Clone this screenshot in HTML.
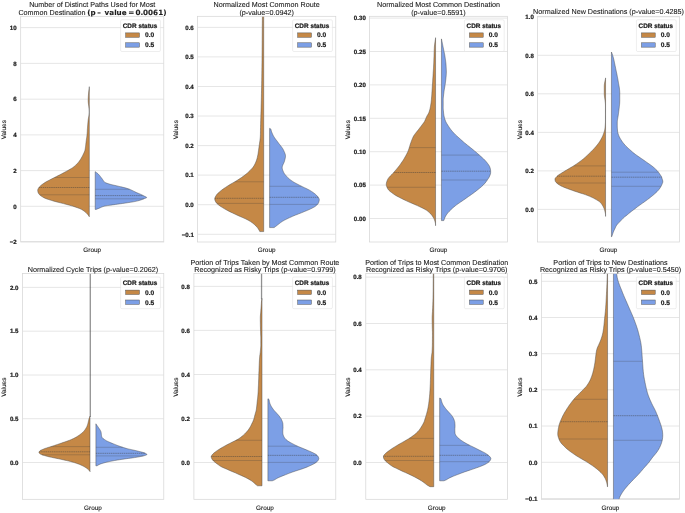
<!DOCTYPE html>
<html lang="en">
<head>
<meta charset="utf-8">
<title>CDR status violin plots</title>
<style>html,body{margin:0;padding:0;background:#fff;}svg{display:block;}</style>
</head>
<body>
<svg width="685" height="513" viewBox="0 0 685 513" font-family="'Liberation Sans', sans-serif" text-rendering="geometricPrecision">
<rect width="685" height="513" fill="#fff"/>
<defs>
<clipPath id="c1"><rect x="20.7" y="16.3" width="143.1" height="225.7"/></clipPath>
<clipPath id="c2"><rect x="197.5" y="16.3" width="138.3" height="225.7"/></clipPath>
<clipPath id="c3"><rect x="369.4" y="16.3" width="138.2" height="225.7"/></clipPath>
<clipPath id="c4"><rect x="537.4" y="16.3" width="142.2" height="225.7"/></clipPath>
<clipPath id="c5"><rect x="22.5" y="273.5" width="141.3" height="225.8"/></clipPath>
<clipPath id="c6"><rect x="193.9" y="273.5" width="141.9" height="225.8"/></clipPath>
<clipPath id="c7"><rect x="365.8" y="273.5" width="141.8" height="225.8"/></clipPath>
<clipPath id="c8"><rect x="541.4" y="273.5" width="138.2" height="225.8"/></clipPath>
</defs>
<g id="panel1">
<g stroke="#d7d7d7" stroke-width="0.62" clip-path="url(#c1)">
<line x1="20.7" x2="163.8" y1="27.6" y2="27.6"/>
<line x1="20.7" x2="163.8" y1="63.4" y2="63.4"/>
<line x1="20.7" x2="163.8" y1="99.2" y2="99.2"/>
<line x1="20.7" x2="163.8" y1="134.9" y2="134.9"/>
<line x1="20.7" x2="163.8" y1="170.6" y2="170.6"/>
<line x1="20.7" x2="163.8" y1="206.3" y2="206.3"/>
<line x1="20.7" x2="163.8" y1="241.5" y2="241.5"/>
</g>
<g clip-path="url(#c1)" stroke="#464646" stroke-width="0.46" stroke-linejoin="bevel">
<path d="M89.3 86.7L89.3 86.7L89.3 87.52L89.27 88.34L89.12 89.15L88.98 89.97L88.85 90.79L88.74 91.61L88.65 92.42L88.58 93.24L88.52 94.06L88.45 94.88L88.39 95.69L88.34 96.51L88.29 97.33L88.25 98.15L88.22 98.96L88.21 99.78L88.2 100.6L88.22 101.42L88.27 102.23L88.34 103.05L88.44 103.87L88.54 104.69L88.66 105.51L88.78 106.32L88.89 107.14L89 107.96L89.11 108.78L89.19 109.59L89.25 110.41L89.29 111.23L89.3 112.05L89.26 112.86L89.19 113.68L89.09 114.5L88.97 115.32L88.83 116.13L88.68 116.95L88.53 117.77L88.38 118.59L88.25 119.4L88.14 120.22L88.06 121.04L87.97 121.86L87.9 122.67L87.82 123.49L87.75 124.31L87.69 125.13L87.62 125.95L87.56 126.76L87.5 127.58L87.44 128.4L87.39 129.22L87.34 130.03L87.29 130.85L87.25 131.67L87.2 132.49L87.15 133.3L87.09 134.12L87.01 134.94L86.92 135.76L86.82 136.57L86.71 137.39L86.59 138.21L86.47 139.03L86.35 139.84L86.23 140.66L86.12 141.48L86.01 142.3L85.92 143.12L85.83 143.93L85.75 144.75L85.66 145.57L85.57 146.39L85.46 147.2L85.35 148.02L85.22 148.84L85.07 149.66L84.88 150.47L84.61 151.29L84.28 152.11L83.91 152.93L83.52 153.74L83.14 154.56L82.74 155.38L82.33 156.2L81.89 157.01L81.44 157.83L80.95 158.65L80.44 159.47L79.9 160.28L79.33 161.1L78.71 161.92L78.04 162.74L77.31 163.56L76.53 164.37L75.69 165.19L74.78 166.01L73.79 166.83L72.67 167.64L71.4 168.46L70.03 169.28L68.59 170.1L67.1 170.91L65.6 171.73L64.11 172.55L62.6 173.37L61.02 174.18L59.41 175L57.78 175.82L56.16 176.64L54.57 177.45L53 178.27L51.38 179.09L49.76 179.91L48.16 180.73L46.64 181.54L45.24 182.36L43.99 183.18L42.82 184L41.7 184.81L40.67 185.63L39.8 186.45L39.12 187.27L38.57 188.08L38.08 188.9L37.76 189.72L37.71 190.54L37.82 191.35L37.99 192.17L38.3 192.99L38.81 193.81L39.46 194.62L40.35 195.44L41.47 196.26L42.79 197.08L44.28 197.89L46.2 198.71L48.57 199.53L51.22 200.35L53.98 201.17L56.97 201.98L60.26 202.8L63.51 203.62L66.6 204.44L69.67 205.25L72.54 206.07L75.05 206.89L77.39 207.71L79.53 208.52L81.36 209.34L82.78 210.16L83.97 210.98L85.02 211.79L85.94 212.61L86.76 213.43L87.51 214.25L88.19 215.06L88.79 215.88L89.3 216.7L89.3 216.7Z" fill="#C58846"/>
<line x1="89.3" x2="54.48" y1="177.5" y2="177.5" stroke="#3a3a3a" stroke-opacity="0.55" stroke-width="0.45"/>
<line x1="89.3" x2="38.96" y1="187.5" y2="187.5" stroke="#3a3a3a" stroke-opacity="0.85" stroke-width="0.5" stroke-dasharray="1.55 0.6"/>
<line x1="89.3" x2="39.63" y1="194.8" y2="194.8" stroke="#3a3a3a" stroke-opacity="0.55" stroke-width="0.45"/>
<path d="M95.2 171.7L95.3 171.7L95.63 171.94L95.96 172.17L96.28 172.41L96.6 172.65L96.9 172.89L97.2 173.12L97.48 173.36L97.76 173.6L98.02 173.83L98.27 174.07L98.51 174.31L98.74 174.55L98.96 174.78L99.17 175.02L99.38 175.26L99.58 175.49L99.77 175.73L99.97 175.97L100.15 176.21L100.34 176.44L100.52 176.68L100.7 176.92L100.88 177.15L101.06 177.39L101.24 177.63L101.43 177.86L101.6 178.1L101.77 178.34L101.94 178.58L102.11 178.81L102.28 179.05L102.44 179.29L102.61 179.52L102.77 179.76L102.94 180L103.11 180.24L103.28 180.47L103.45 180.71L103.6 180.95L103.75 181.18L103.9 181.42L104.08 181.66L104.29 181.9L104.54 182.13L104.88 182.37L105.33 182.61L105.86 182.84L106.47 183.08L107.14 183.32L107.85 183.56L108.59 183.79L109.35 184.03L110.12 184.27L110.96 184.5L111.89 184.74L112.89 184.98L113.94 185.22L115.01 185.45L116.09 185.69L117.14 185.93L118.15 186.16L119.13 186.4L120.14 186.64L121.16 186.87L122.17 187.11L123.18 187.35L124.15 187.59L125.08 187.82L125.96 188.06L126.77 188.3L127.51 188.53L128.2 188.77L128.85 189.01L129.47 189.25L130.06 189.48L130.62 189.72L131.17 189.96L131.71 190.19L132.22 190.43L132.7 190.67L133.17 190.91L133.62 191.14L134.07 191.38L134.52 191.62L134.98 191.85L135.46 192.09L135.96 192.33L136.49 192.57L137.05 192.8L137.62 193.04L138.21 193.28L138.79 193.51L139.37 193.75L139.94 193.99L140.49 194.23L141.02 194.46L141.52 194.7L142 194.94L142.47 195.17L142.94 195.41L143.39 195.65L143.83 195.88L144.27 196.12L144.71 196.36L145.23 196.6L145.78 196.83L146.27 197.07L146.6 197.31L146.69 197.54L146.45 197.78L145.96 198.02L145.33 198.26L144.67 198.49L144.08 198.73L143.49 198.97L142.88 199.2L142.25 199.44L141.6 199.68L140.91 199.92L140.18 200.15L139.41 200.39L138.59 200.63L137.73 200.86L136.8 201.1L135.8 201.34L134.64 201.58L133.35 201.81L131.94 202.05L130.45 202.29L128.9 202.52L127.32 202.76L125.74 203L124.17 203.24L122.54 203.47L120.83 203.71L119.08 203.95L117.34 204.18L115.63 204.42L114.01 204.66L112.34 204.89L110.64 205.13L108.96 205.37L107.38 205.61L105.96 205.84L104.78 206.08L103.88 206.32L103.11 206.55L102.44 206.79L101.83 207.03L101.28 207.27L100.76 207.5L100.26 207.74L99.76 207.98L99.24 208.21L98.68 208.45L98.06 208.69L97.42 208.93L96.76 209.16L96.1 209.4L95.2 209.4Z" fill="#7C9FE6"/>
<line x1="95.2" x2="129.61" y1="189.3" y2="189.3" stroke="#3a3a3a" stroke-opacity="0.55" stroke-width="0.45"/>
<line x1="95.2" x2="143.3" y1="195.6" y2="195.6" stroke="#3a3a3a" stroke-opacity="0.85" stroke-width="0.5" stroke-dasharray="1.55 0.6"/>
<line x1="95.2" x2="143.91" y1="198.8" y2="198.8" stroke="#3a3a3a" stroke-opacity="0.55" stroke-width="0.45"/>
</g>
<rect x="20.7" y="16.3" width="143.1" height="225.7" fill="none" stroke="#d5d5d5" stroke-width="0.72"/>
<g font-size="6.15" font-weight="bold" fill="#1c1c1c" stroke="#1c1c1c" stroke-width="0.22" text-anchor="end">
<text x="16.7" y="29.8">10</text>
<text x="16.7" y="65.6">8</text>
<text x="16.7" y="101.4">6</text>
<text x="16.7" y="137.1">4</text>
<text x="16.7" y="172.8">2</text>
<text x="16.7" y="208.5">0</text>
<text x="16.7" y="243.7">−2</text>
</g>
<text font-size="6.45" fill="#1c1c1c" stroke="#1c1c1c" stroke-width="0.12" text-anchor="middle" transform="translate(6.4 129.7) rotate(-90)">Values</text>
<text font-size="6.4" fill="#1c1c1c" stroke="#1c1c1c" stroke-width="0.12" text-anchor="middle" x="92.25" y="251.8">Group</text>
<text font-size="7.2" fill="#1c1c1c" stroke="#1c1c1c" stroke-width="0.1" text-anchor="middle" x="92.25" y="7.35">Number of Distinct Paths Used for Most</text>
<text font-size="7.2" fill="#1c1c1c" stroke="#1c1c1c" stroke-width="0.1" y="15.25"><tspan x="18.4">Common Destination </tspan><tspan font-family="'DejaVu Sans', 'Liberation Sans', sans-serif" font-weight="bold"><tspan x="87.15">(p </tspan><tspan x="97.17">– </tspan><tspan x="104.6">value </tspan><tspan x="128.2">= </tspan><tspan x="135.4">0.0061)</tspan></tspan></text>
<rect x="120.6" y="19.8" width="39.8" height="31.7" rx="1.3" fill="#fff" fill-opacity="0.8" stroke="#dcdcdc" stroke-width="0.5"/>
<text font-size="6.42" font-weight="bold" fill="#1c1c1c" stroke="#1c1c1c" stroke-width="0.22" text-anchor="middle" x="140" y="27.5">CDR status</text>
<rect x="125.7" y="32.9" width="13.7" height="4.35" fill="#C58846" stroke="#464646" stroke-width="0.45"/>
<text font-size="6.62" font-weight="bold" fill="#1c1c1c" stroke="#1c1c1c" stroke-width="0.22" x="145" y="37.45">0.0</text>
<rect x="125.7" y="42.8" width="13.7" height="4.35" fill="#7C9FE6" stroke="#464646" stroke-width="0.45"/>
<text font-size="6.62" font-weight="bold" fill="#1c1c1c" stroke="#1c1c1c" stroke-width="0.22" x="145" y="47.35">0.5</text>
</g>
<g id="panel2">
<g stroke="#d7d7d7" stroke-width="0.62" clip-path="url(#c2)">
<line x1="197.5" x2="335.8" y1="27.4" y2="27.4"/>
<line x1="197.5" x2="335.8" y1="56.9" y2="56.9"/>
<line x1="197.5" x2="335.8" y1="86.5" y2="86.5"/>
<line x1="197.5" x2="335.8" y1="116" y2="116"/>
<line x1="197.5" x2="335.8" y1="145.6" y2="145.6"/>
<line x1="197.5" x2="335.8" y1="175.1" y2="175.1"/>
<line x1="197.5" x2="335.8" y1="204.7" y2="204.7"/>
<line x1="197.5" x2="335.8" y1="234.3" y2="234.3"/>
</g>
<g clip-path="url(#c2)" stroke="#464646" stroke-width="0.46" stroke-linejoin="bevel">
<path d="M263.7 5L262.6 5L262.57 6.43L262.54 7.85L262.51 9.28L262.49 10.7L262.46 12.13L262.44 13.55L262.42 14.98L262.4 16.4L262.38 17.83L262.36 19.25L262.35 20.68L262.33 22.1L262.32 23.53L262.3 24.95L262.29 26.38L262.28 27.8L262.26 29.23L262.25 30.65L262.24 32.08L262.23 33.5L262.22 34.93L262.21 36.35L262.2 37.78L262.19 39.2L262.18 40.63L262.17 42.05L262.16 43.48L262.15 44.9L262.14 46.33L262.12 47.75L262.11 49.18L262.1 50.61L262.08 52.03L262.07 53.46L262.05 54.88L262.04 56.31L262.02 57.73L262.01 59.16L261.99 60.58L261.98 62.01L261.96 63.43L261.94 64.86L261.93 66.28L261.91 67.71L261.89 69.13L261.87 70.56L261.85 71.98L261.83 73.41L261.81 74.83L261.79 76.26L261.76 77.68L261.74 79.11L261.72 80.53L261.69 81.96L261.67 83.38L261.64 84.81L261.61 86.23L261.58 87.66L261.55 89.08L261.52 90.51L261.49 91.93L261.46 93.36L261.43 94.78L261.4 96.21L261.37 97.64L261.33 99.06L261.3 100.49L261.27 101.91L261.23 103.34L261.19 104.76L261.15 106.19L261.11 107.61L261.07 109.04L261.02 110.46L260.98 111.89L260.93 113.31L260.89 114.74L260.84 116.16L260.8 117.59L260.76 119.01L260.71 120.44L260.67 121.86L260.63 123.29L260.6 124.71L260.56 126.14L260.53 127.56L260.5 128.99L260.48 130.41L260.46 131.84L260.44 133.26L260.41 134.69L260.35 136.11L260.25 137.54L260.11 138.96L259.94 140.39L259.75 141.82L259.54 143.24L259.33 144.67L259.13 146.09L258.93 147.52L258.74 148.94L258.55 150.37L258.35 151.79L258.14 153.22L257.9 154.64L257.62 156.07L257.31 157.49L256.93 158.92L256.47 160.34L255.94 161.77L255.33 163.19L254.65 164.62L253.85 166.04L252.81 167.47L251.59 168.89L250.22 170.32L248.77 171.74L247.23 173.17L245.49 174.59L243.59 176.02L241.58 177.44L239.49 178.87L237.32 180.29L234.93 181.72L232.43 183.14L229.96 184.57L227.69 185.99L225.5 187.42L223.39 188.85L221.44 190.27L219.72 191.7L218.1 193.12L216.76 194.55L215.83 195.97L215.06 197.4L214.7 198.82L214.94 200.25L215.57 201.67L216.5 203.1L218.09 204.52L219.93 205.95L222.1 207.37L224.51 208.8L227.06 210.22L229.73 211.65L232.68 213.07L235.79 214.5L238.88 215.92L242.14 217.35L245.4 218.77L248.23 220.2L250.54 221.62L252.6 223.05L254.39 224.47L255.9 225.9L257.17 227.32L258.23 228.75L259.11 230.17L259.8 231.6L263.7 231.6Z" fill="#C58846"/>
<line x1="263.7" x2="234.79" y1="181.8" y2="181.8" stroke="#3a3a3a" stroke-opacity="0.55" stroke-width="0.45"/>
<line x1="263.7" x2="214.76" y1="198.3" y2="198.3" stroke="#3a3a3a" stroke-opacity="0.85" stroke-width="0.5" stroke-dasharray="1.55 0.6"/>
<line x1="263.7" x2="216.8" y1="203.4" y2="203.4" stroke="#3a3a3a" stroke-opacity="0.55" stroke-width="0.45"/>
<path d="M269.6 128.3L269.6 128.3L270.72 128.92L271.01 129.55L271.17 130.17L271.3 130.8L271.47 131.42L271.71 132.05L271.96 132.67L272.22 133.3L272.49 133.92L272.77 134.55L273.07 135.17L273.39 135.79L273.73 136.42L274.11 137.04L274.52 137.67L274.96 138.29L275.41 138.92L275.88 139.54L276.36 140.17L276.84 140.79L277.32 141.42L277.8 142.04L278.26 142.66L278.71 143.29L279.17 143.91L279.65 144.54L280.15 145.16L280.64 145.79L281.13 146.41L281.6 147.04L282.05 147.66L282.48 148.28L282.87 148.91L283.22 149.53L283.53 150.16L283.81 150.78L284.1 151.41L284.39 152.03L284.66 152.66L284.91 153.28L285.12 153.91L285.3 154.53L285.42 155.15L285.49 155.78L285.49 156.4L285.44 157.03L285.35 157.65L285.23 158.28L285.08 158.9L284.92 159.53L284.75 160.15L284.58 160.78L284.42 161.4L284.2 162.02L283.94 162.65L283.66 163.27L283.36 163.9L283.06 164.52L282.79 165.15L282.55 165.77L282.36 166.4L282.24 167.02L282.2 167.65L282.24 168.27L282.36 168.89L282.53 169.52L282.74 170.14L282.98 170.77L283.24 171.39L283.51 172.02L283.8 172.64L284.16 173.27L284.58 173.89L285.04 174.52L285.54 175.14L286.08 175.76L286.65 176.39L287.24 177.01L287.84 177.64L288.48 178.26L289.19 178.89L289.96 179.51L290.79 180.14L291.66 180.76L292.58 181.38L293.56 182.01L294.63 182.63L295.75 183.26L296.92 183.88L298.11 184.51L299.33 185.13L300.54 185.76L301.75 186.38L303.03 187.01L304.37 187.63L305.71 188.25L307.03 188.88L308.28 189.5L309.44 190.13L310.48 190.75L311.47 191.38L312.42 192L313.33 192.63L314.18 193.25L314.96 193.88L315.68 194.5L316.33 195.12L316.95 195.75L317.52 196.37L318.02 197L318.44 197.62L318.79 198.25L319.11 198.87L319.29 199.5L319.28 200.12L319.18 200.75L319.04 201.37L318.85 201.99L318.63 202.62L318.34 203.24L317.92 203.87L317.38 204.49L316.75 205.12L316.07 205.74L315.26 206.37L314.25 206.99L313.11 207.62L311.91 208.24L310.67 208.86L309.32 209.49L307.89 210.11L306.4 210.74L304.88 211.36L303.36 211.99L301.84 212.61L300.27 213.24L298.66 213.86L297.04 214.48L295.45 215.11L293.91 215.73L292.47 216.36L291.07 216.98L289.69 217.61L288.34 218.23L287.03 218.86L285.77 219.48L284.57 220.11L283.45 220.73L282.41 221.35L281.46 221.98L280.59 222.6L279.76 223.23L278.97 223.85L278.19 224.48L277.41 225.1L276.6 225.73L275.77 226.35L274.93 226.98L274.1 227.6L269.6 227.6Z" fill="#7C9FE6"/>
<line x1="269.6" x2="301.59" y1="186.3" y2="186.3" stroke="#3a3a3a" stroke-opacity="0.55" stroke-width="0.45"/>
<line x1="269.6" x2="318.24" y1="197.3" y2="197.3" stroke="#3a3a3a" stroke-opacity="0.85" stroke-width="0.5" stroke-dasharray="1.55 0.6"/>
<line x1="269.6" x2="317.46" y1="204.4" y2="204.4" stroke="#3a3a3a" stroke-opacity="0.55" stroke-width="0.45"/>
</g>
<rect x="197.5" y="16.3" width="138.3" height="225.7" fill="none" stroke="#d5d5d5" stroke-width="0.72"/>
<g font-size="6.15" font-weight="bold" fill="#1c1c1c" stroke="#1c1c1c" stroke-width="0.22" text-anchor="end">
<text x="193.8" y="29.6">0.6</text>
<text x="193.8" y="59.1">0.5</text>
<text x="193.8" y="88.7">0.4</text>
<text x="193.8" y="118.2">0.3</text>
<text x="193.8" y="147.8">0.2</text>
<text x="193.8" y="177.3">0.1</text>
<text x="193.8" y="206.9">0.0</text>
<text x="193.8" y="236.5">−0.1</text>
</g>
<text font-size="6.45" fill="#1c1c1c" stroke="#1c1c1c" stroke-width="0.12" text-anchor="middle" transform="translate(178 129.7) rotate(-90)">Values</text>
<text font-size="6.4" fill="#1c1c1c" stroke="#1c1c1c" stroke-width="0.12" text-anchor="middle" x="266.65" y="251.8">Group</text>
<text font-size="7.2" fill="#1c1c1c" stroke="#1c1c1c" stroke-width="0.1" text-anchor="middle" x="266.65" y="7.35">Normalized Most Common Route</text>
<text font-size="7.2" fill="#1c1c1c" stroke="#1c1c1c" stroke-width="0.1" text-anchor="middle" x="266.65" y="15.25">(p-value=0.0942)</text>
<rect x="292.6" y="19.8" width="39.8" height="31.7" rx="1.3" fill="#fff" fill-opacity="0.8" stroke="#dcdcdc" stroke-width="0.5"/>
<text font-size="6.42" font-weight="bold" fill="#1c1c1c" stroke="#1c1c1c" stroke-width="0.22" text-anchor="middle" x="312" y="27.5">CDR status</text>
<rect x="297.7" y="32.9" width="13.7" height="4.35" fill="#C58846" stroke="#464646" stroke-width="0.45"/>
<text font-size="6.62" font-weight="bold" fill="#1c1c1c" stroke="#1c1c1c" stroke-width="0.22" x="317" y="37.45">0.0</text>
<rect x="297.7" y="42.8" width="13.7" height="4.35" fill="#7C9FE6" stroke="#464646" stroke-width="0.45"/>
<text font-size="6.62" font-weight="bold" fill="#1c1c1c" stroke="#1c1c1c" stroke-width="0.22" x="317" y="47.35">0.5</text>
</g>
<g id="panel3">
<g stroke="#d7d7d7" stroke-width="0.62" clip-path="url(#c3)">
<line x1="369.4" x2="507.6" y1="18.1" y2="18.1"/>
<line x1="369.4" x2="507.6" y1="51.5" y2="51.5"/>
<line x1="369.4" x2="507.6" y1="84.9" y2="84.9"/>
<line x1="369.4" x2="507.6" y1="118.3" y2="118.3"/>
<line x1="369.4" x2="507.6" y1="151.7" y2="151.7"/>
<line x1="369.4" x2="507.6" y1="185.1" y2="185.1"/>
<line x1="369.4" x2="507.6" y1="218.5" y2="218.5"/>
</g>
<g clip-path="url(#c3)" stroke="#464646" stroke-width="0.46" stroke-linejoin="bevel">
<path d="M435.55 37.7L435.55 37.7L435.5 38.88L435.27 40.06L435.06 41.25L434.89 42.43L434.73 43.61L434.59 44.79L434.47 45.98L434.37 47.16L434.3 48.34L434.24 49.52L434.19 50.71L434.15 51.89L434.11 53.07L434.06 54.25L434.02 55.44L433.98 56.62L433.93 57.8L433.89 58.98L433.85 60.17L433.8 61.35L433.76 62.53L433.71 63.71L433.66 64.89L433.6 66.08L433.54 67.26L433.47 68.44L433.4 69.62L433.32 70.81L433.24 71.99L433.17 73.17L433.09 74.35L433.02 75.54L432.94 76.72L432.86 77.9L432.78 79.08L432.7 80.27L432.63 81.45L432.55 82.63L432.47 83.81L432.4 85L432.32 86.18L432.25 87.36L432.18 88.54L432.1 89.73L432.02 90.91L431.94 92.09L431.87 93.27L431.79 94.45L431.71 95.64L431.63 96.82L431.54 98L431.45 99.18L431.33 100.37L431.2 101.55L431.06 102.73L430.89 103.91L430.7 105.1L430.5 106.28L430.27 107.46L430.03 108.64L429.75 109.83L429.41 111.01L429.01 112.19L428.53 113.37L427.83 114.56L427.09 115.74L426.53 116.92L426.03 118.1L425.5 119.28L424.98 120.47L424.39 121.65L423.63 122.83L422.72 124.01L421.8 125.2L420.92 126.38L420.03 127.56L419.14 128.74L418.23 129.93L417.28 131.11L416.3 132.29L415.36 133.47L414.49 134.66L413.72 135.84L413.09 137.02L412.54 138.2L412.05 139.39L411.59 140.57L411.17 141.75L410.76 142.93L410.34 144.12L409.96 145.3L409.6 146.48L409.26 147.66L408.9 148.84L408.49 150.03L408.02 151.21L407.5 152.39L406.92 153.57L406.31 154.76L405.66 155.94L405 157.12L404.32 158.3L403.6 159.49L402.85 160.67L402.07 161.85L401.25 163.03L400.41 164.22L399.55 165.4L398.65 166.58L397.7 167.76L396.72 168.95L395.72 170.13L394.7 171.31L393.68 172.49L392.64 173.67L391.48 174.86L390.28 176.04L389.17 177.22L388.25 178.4L387.62 179.59L387.12 180.77L386.68 181.95L386.37 183.13L386.25 184.32L386.39 185.5L386.76 186.68L387.28 187.86L387.89 189.05L388.81 190.23L390.1 191.41L391.61 192.59L393.22 193.78L394.97 194.96L396.99 196.14L399.2 197.32L401.55 198.51L403.97 199.69L406.41 200.87L409.03 202.05L411.81 203.23L414.61 204.42L417.29 205.6L419.78 206.78L422.29 207.96L424.64 209.15L426.63 210.33L428.18 211.51L429.52 212.69L430.69 213.88L431.69 215.06L432.51 216.24L433.26 217.42L433.91 218.61L434.44 219.79L434.83 220.97L435.15 222.15L435.43 223.34L435.55 224.52L435.55 225.7L435.55 225.7Z" fill="#C58846"/>
<line x1="435.55" x2="409.28" y1="147.6" y2="147.6" stroke="#3a3a3a" stroke-opacity="0.55" stroke-width="0.45"/>
<line x1="435.55" x2="393.68" y1="172.5" y2="172.5" stroke="#3a3a3a" stroke-opacity="0.85" stroke-width="0.5" stroke-dasharray="1.55 0.6"/>
<line x1="435.55" x2="387.02" y1="187.3" y2="187.3" stroke="#3a3a3a" stroke-opacity="0.55" stroke-width="0.45"/>
<path d="M441.45 38.9L441.45 38.9L441.7 40.04L441.94 41.19L442.18 42.33L442.41 43.47L442.63 44.61L442.86 45.76L443.08 46.9L443.31 48.04L443.55 49.18L443.79 50.33L444.03 51.47L444.27 52.61L444.5 53.76L444.72 54.9L444.91 56.04L445.09 57.18L445.26 58.33L445.43 59.47L445.59 60.61L445.73 61.76L445.86 62.9L445.97 64.04L446.06 65.18L446.13 66.33L446.19 67.47L446.26 68.61L446.3 69.75L446.34 70.9L446.35 72.04L446.33 73.18L446.29 74.33L446.21 75.47L446.12 76.61L446.01 77.75L445.88 78.9L445.75 80.04L445.61 81.18L445.48 82.33L445.34 83.47L445.17 84.61L444.98 85.75L444.78 86.9L444.57 88.04L444.37 89.18L444.19 90.32L444.04 91.47L443.9 92.61L443.75 93.75L443.6 94.9L443.47 96.04L443.35 97.18L443.26 98.32L443.21 99.47L443.2 100.61L443.2 101.75L443.2 102.89L443.2 104.04L443.2 105.18L443.2 106.32L443.2 107.47L443.23 108.61L443.29 109.75L443.39 110.89L443.5 112.04L443.63 113.18L443.77 114.32L443.94 115.47L444.18 116.61L444.46 117.75L444.79 118.89L445.16 120.04L445.57 121.18L446.12 122.32L446.76 123.46L447.47 124.61L448.19 125.75L448.92 126.89L449.69 128.04L450.52 129.18L451.41 130.32L452.38 131.46L453.42 132.61L454.51 133.75L455.64 134.89L456.85 136.04L458.12 137.18L459.41 138.32L460.69 139.46L461.96 140.61L463.24 141.75L464.58 142.89L465.98 144.03L467.42 145.18L468.85 146.32L470.28 147.46L471.71 148.61L473.11 149.75L474.48 150.89L475.84 152.03L477.17 153.18L478.48 154.32L479.77 155.46L481.06 156.61L482.34 157.75L483.58 158.89L484.73 160.03L485.77 161.18L486.73 162.32L487.61 163.46L488.42 164.6L489.21 165.75L489.78 166.89L490.13 168.03L490.42 169.18L490.6 170.32L490.65 171.46L490.65 172.6L490.5 173.75L490.13 174.89L489.68 176.03L489.14 177.17L488.44 178.32L487.67 179.46L486.91 180.6L486.1 181.75L485.21 182.89L484.21 184.03L483.08 185.17L481.87 186.32L480.58 187.46L479.18 188.6L477.73 189.75L476.27 190.89L474.79 192.03L473.27 193.17L471.7 194.32L470.07 195.46L468.42 196.6L466.79 197.74L465.17 198.89L463.54 200.03L461.87 201.17L460.16 202.32L458.51 203.46L456.91 204.6L455.37 205.74L453.95 206.89L452.68 208.03L451.49 209.17L450.3 210.32L449.15 211.46L448.11 212.6L447.16 213.74L446.35 214.89L445.65 216.03L445.07 217.17L444.64 218.31L444.23 219.46L443.75 220.6L441.45 220.6Z" fill="#7C9FE6"/>
<line x1="441.45" x2="479.36" y1="155.1" y2="155.1" stroke="#3a3a3a" stroke-opacity="0.55" stroke-width="0.45"/>
<line x1="441.45" x2="490.65" y1="171.2" y2="171.2" stroke="#3a3a3a" stroke-opacity="0.85" stroke-width="0.5" stroke-dasharray="1.55 0.6"/>
<line x1="441.45" x2="487.32" y1="180" y2="180" stroke="#3a3a3a" stroke-opacity="0.55" stroke-width="0.45"/>
</g>
<rect x="369.4" y="16.3" width="138.2" height="225.7" fill="none" stroke="#d5d5d5" stroke-width="0.72"/>
<g font-size="6.15" font-weight="bold" fill="#1c1c1c" stroke="#1c1c1c" stroke-width="0.22" text-anchor="end">
<text x="365.8" y="20.3">0.30</text>
<text x="365.8" y="53.7">0.25</text>
<text x="365.8" y="87.1">0.20</text>
<text x="365.8" y="120.5">0.15</text>
<text x="365.8" y="153.9">0.10</text>
<text x="365.8" y="187.3">0.05</text>
<text x="365.8" y="220.7">0.00</text>
</g>
<text font-size="6.45" fill="#1c1c1c" stroke="#1c1c1c" stroke-width="0.12" text-anchor="middle" transform="translate(350.3 129.7) rotate(-90)">Values</text>
<text font-size="6.4" fill="#1c1c1c" stroke="#1c1c1c" stroke-width="0.12" text-anchor="middle" x="438.5" y="251.8">Group</text>
<text font-size="7.2" fill="#1c1c1c" stroke="#1c1c1c" stroke-width="0.1" text-anchor="middle" x="438.5" y="7.35">Normalized Most Common Destination</text>
<text font-size="7.2" fill="#1c1c1c" stroke="#1c1c1c" stroke-width="0.1" text-anchor="middle" x="438.5" y="15.25">(p-value=0.5591)</text>
<rect x="464.4" y="19.8" width="39.8" height="31.7" rx="1.3" fill="#fff" fill-opacity="0.8" stroke="#dcdcdc" stroke-width="0.5"/>
<text font-size="6.42" font-weight="bold" fill="#1c1c1c" stroke="#1c1c1c" stroke-width="0.22" text-anchor="middle" x="483.8" y="27.5">CDR status</text>
<rect x="469.5" y="32.9" width="13.7" height="4.35" fill="#C58846" stroke="#464646" stroke-width="0.45"/>
<text font-size="6.62" font-weight="bold" fill="#1c1c1c" stroke="#1c1c1c" stroke-width="0.22" x="488.8" y="37.45">0.0</text>
<rect x="469.5" y="42.8" width="13.7" height="4.35" fill="#7C9FE6" stroke="#464646" stroke-width="0.45"/>
<text font-size="6.62" font-weight="bold" fill="#1c1c1c" stroke="#1c1c1c" stroke-width="0.22" x="488.8" y="47.35">0.5</text>
</g>
<g id="panel4">
<g stroke="#d7d7d7" stroke-width="0.62" clip-path="url(#c4)">
<line x1="537.4" x2="679.6" y1="16.8" y2="16.8"/>
<line x1="537.4" x2="679.6" y1="55.3" y2="55.3"/>
<line x1="537.4" x2="679.6" y1="93.8" y2="93.8"/>
<line x1="537.4" x2="679.6" y1="132.4" y2="132.4"/>
<line x1="537.4" x2="679.6" y1="170.9" y2="170.9"/>
<line x1="537.4" x2="679.6" y1="209.4" y2="209.4"/>
</g>
<g clip-path="url(#c4)" stroke="#464646" stroke-width="0.46" stroke-linejoin="bevel">
<path d="M605.55 77.9L605.55 77.9L605.52 78.77L605.29 79.64L605.08 80.51L604.89 81.38L604.71 82.26L604.56 83.13L604.43 84L604.34 84.87L604.27 85.74L604.25 86.61L604.25 87.48L604.25 88.35L604.25 89.22L604.25 90.09L604.25 90.97L604.25 91.84L604.25 92.71L604.26 93.58L604.29 94.45L604.36 95.32L604.44 96.19L604.55 97.06L604.66 97.93L604.79 98.81L604.91 99.68L605.03 100.55L605.15 101.42L605.25 102.29L605.34 103.16L605.4 104.03L605.44 104.9L605.45 105.77L605.45 106.65L605.45 107.52L605.45 108.39L605.45 109.26L605.45 110.13L605.45 111L605.45 111.87L605.45 112.74L605.45 113.61L605.45 114.48L605.45 115.36L605.45 116.23L605.45 117.1L605.45 117.97L605.45 118.84L605.45 119.71L605.45 120.58L605.44 121.45L605.42 122.32L605.38 123.2L605.33 124.07L605.27 124.94L605.19 125.81L605.11 126.68L605.02 127.55L604.92 128.42L604.81 129.29L604.65 130.16L604.43 131.04L604.17 131.91L603.88 132.78L603.57 133.65L603.26 134.52L602.92 135.39L602.54 136.26L602.13 137.13L601.69 138L601.23 138.87L600.75 139.75L600.24 140.62L599.72 141.49L599.16 142.36L598.54 143.23L597.88 144.1L597.19 144.97L596.48 145.84L595.75 146.71L594.99 147.59L594.2 148.46L593.39 149.33L592.56 150.2L591.71 151.07L590.83 151.94L589.94 152.81L589.03 153.68L588.11 154.55L587.19 155.43L586.26 156.3L585.32 157.17L584.34 158.04L583.32 158.91L582.23 159.78L581.09 160.65L579.92 161.52L578.72 162.39L577.51 163.26L576.27 164.14L574.98 165.01L573.61 165.88L572.17 166.75L570.69 167.62L569.22 168.49L567.74 169.36L566.26 170.23L564.81 171.1L563.39 171.98L561.97 172.85L560.52 173.72L559.12 174.59L557.97 175.46L556.99 176.33L556.17 177.2L555.36 178.07L554.95 178.94L555.01 179.82L555.16 180.69L555.43 181.56L556.12 182.43L557.07 183.3L558.11 184.17L559.43 185.04L560.98 185.91L562.81 186.78L564.93 187.65L567.21 188.53L569.66 189.4L572.11 190.27L574.61 191.14L577.21 192.01L579.9 192.88L582.72 193.75L585.24 194.62L587.55 195.49L589.73 196.37L591.71 197.24L593.46 198.11L595.08 198.98L596.63 199.85L598.07 200.72L599.34 201.59L600.37 202.46L601.13 203.33L601.76 204.21L602.33 205.08L602.85 205.95L603.31 206.82L603.71 207.69L604.07 208.56L604.38 209.43L604.64 210.3L604.87 211.17L605.08 212.04L605.28 212.92L605.45 213.79L605.55 214.66L605.55 215.53L605.55 216.4L605.55 216.4Z" fill="#C58846"/>
<line x1="605.55" x2="573.58" y1="165.9" y2="165.9" stroke="#3a3a3a" stroke-opacity="0.55" stroke-width="0.45"/>
<line x1="605.55" x2="557.13" y1="176.2" y2="176.2" stroke="#3a3a3a" stroke-opacity="0.85" stroke-width="0.5" stroke-dasharray="1.55 0.6"/>
<line x1="605.55" x2="556.73" y1="183" y2="183" stroke="#3a3a3a" stroke-opacity="0.55" stroke-width="0.45"/>
<path d="M611.45 52L611.45 52L611.9 53.16L612.34 54.32L612.74 55.49L613.09 56.65L613.4 57.81L613.69 58.97L613.97 60.14L614.22 61.3L614.47 62.46L614.7 63.62L614.94 64.78L615.17 65.95L615.41 67.11L615.65 68.27L615.89 69.43L616.14 70.6L616.39 71.76L616.63 72.92L616.87 74.08L617.11 75.25L617.34 76.41L617.56 77.57L617.77 78.73L617.97 79.89L618.16 81.06L618.36 82.22L618.57 83.38L618.78 84.54L618.99 85.71L619.18 86.87L619.36 88.03L619.51 89.19L619.63 90.35L619.71 91.52L619.75 92.68L619.75 93.84L619.75 95L619.75 96.17L619.75 97.33L619.75 98.49L619.75 99.65L619.75 100.82L619.72 101.98L619.66 103.14L619.58 104.3L619.47 105.46L619.34 106.63L619.21 107.79L619.06 108.95L618.91 110.11L618.77 111.28L618.63 112.44L618.49 113.6L618.33 114.76L618.14 115.92L617.94 117.09L617.74 118.25L617.56 119.41L617.4 120.57L617.3 121.74L617.25 122.9L617.25 124.06L617.27 125.22L617.31 126.38L617.35 127.55L617.41 128.71L617.47 129.87L617.55 131.03L617.72 132.2L618.02 133.36L618.4 134.52L618.83 135.68L619.31 136.85L619.92 138.01L620.62 139.17L621.36 140.33L622.15 141.49L623.01 142.66L623.93 143.82L624.91 144.98L625.97 146.14L627.16 147.31L628.45 148.47L629.76 149.63L631.05 150.79L632.37 151.95L633.75 153.12L635.25 154.28L636.88 155.44L638.56 156.6L640.24 157.77L641.93 158.93L643.61 160.09L645.26 161.25L646.9 162.42L648.57 163.58L650.27 164.74L651.85 165.9L653.29 167.06L654.62 168.23L655.87 169.39L657.05 170.55L658.09 171.71L658.96 172.88L659.75 174.04L660.53 175.2L661.28 176.36L661.78 177.52L662.13 178.69L662.46 179.85L662.8 181.01L662.77 182.17L662.39 183.34L661.91 184.5L661.38 185.66L660.75 186.82L660.03 187.98L659.21 189.15L658.27 190.31L657.18 191.47L655.96 192.63L654.69 193.8L653.35 194.96L651.95 196.12L650.5 197.28L649.01 198.45L647.47 199.61L645.89 200.77L644.27 201.93L642.63 203.09L640.97 204.26L639.31 205.42L637.74 206.58L636.23 207.74L634.73 208.91L633.2 210.07L631.64 211.23L630.16 212.39L628.76 213.55L627.37 214.72L625.9 215.88L624.41 217.04L623.13 218.2L622.06 219.37L620.98 220.53L619.83 221.69L618.69 222.85L617.57 224.02L616.63 225.18L615.98 226.34L615.43 227.5L614.91 228.66L614.34 229.83L613.78 230.99L613.29 232.15L612.9 233.31L612.52 234.48L612.1 235.64L611.65 236.8L611.45 236.8Z" fill="#7C9FE6"/>
<line x1="611.45" x2="658.47" y1="172.2" y2="172.2" stroke="#3a3a3a" stroke-opacity="0.55" stroke-width="0.45"/>
<line x1="611.45" x2="661.66" y1="177.2" y2="177.2" stroke="#3a3a3a" stroke-opacity="0.85" stroke-width="0.5" stroke-dasharray="1.55 0.6"/>
<line x1="611.45" x2="661.05" y1="186.3" y2="186.3" stroke="#3a3a3a" stroke-opacity="0.55" stroke-width="0.45"/>
</g>
<rect x="537.4" y="16.3" width="142.2" height="225.7" fill="none" stroke="#d5d5d5" stroke-width="0.72"/>
<g font-size="6.15" font-weight="bold" fill="#1c1c1c" stroke="#1c1c1c" stroke-width="0.22" text-anchor="end">
<text x="533.9" y="19">1.0</text>
<text x="533.9" y="57.5">0.8</text>
<text x="533.9" y="96">0.6</text>
<text x="533.9" y="134.6">0.4</text>
<text x="533.9" y="173.1">0.2</text>
<text x="533.9" y="211.6">0.0</text>
</g>
<text font-size="6.45" fill="#1c1c1c" stroke="#1c1c1c" stroke-width="0.12" text-anchor="middle" transform="translate(521.8 129.7) rotate(-90)">Values</text>
<text font-size="6.4" fill="#1c1c1c" stroke="#1c1c1c" stroke-width="0.12" text-anchor="middle" x="608.5" y="251.8">Group</text>
<text font-size="7.2" fill="#1c1c1c" stroke="#1c1c1c" stroke-width="0.1" text-anchor="middle" x="608.5" y="14.25">Normalized New Destinations (p-value=0.4285)</text>
<rect x="636.4" y="19.8" width="39.8" height="31.7" rx="1.3" fill="#fff" fill-opacity="0.8" stroke="#dcdcdc" stroke-width="0.5"/>
<text font-size="6.42" font-weight="bold" fill="#1c1c1c" stroke="#1c1c1c" stroke-width="0.22" text-anchor="middle" x="655.8" y="27.5">CDR status</text>
<rect x="641.5" y="32.9" width="13.7" height="4.35" fill="#C58846" stroke="#464646" stroke-width="0.45"/>
<text font-size="6.62" font-weight="bold" fill="#1c1c1c" stroke="#1c1c1c" stroke-width="0.22" x="660.8" y="37.45">0.0</text>
<rect x="641.5" y="42.8" width="13.7" height="4.35" fill="#7C9FE6" stroke="#464646" stroke-width="0.45"/>
<text font-size="6.62" font-weight="bold" fill="#1c1c1c" stroke="#1c1c1c" stroke-width="0.22" x="660.8" y="47.35">0.5</text>
</g>
<g id="panel5">
<g stroke="#d7d7d7" stroke-width="0.62" clip-path="url(#c5)">
<line x1="22.5" x2="163.8" y1="287.4" y2="287.4"/>
<line x1="22.5" x2="163.8" y1="331.2" y2="331.2"/>
<line x1="22.5" x2="163.8" y1="375" y2="375"/>
<line x1="22.5" x2="163.8" y1="418.7" y2="418.7"/>
<line x1="22.5" x2="163.8" y1="462.5" y2="462.5"/>
</g>
<g clip-path="url(#c5)" stroke="#464646" stroke-width="0.46" stroke-linejoin="bevel">
<path d="M90 416L90 416L90 416.35L89.91 416.7L89.72 417.05L89.55 417.4L89.39 417.75L89.25 418.1L89.11 418.45L89 418.8L88.9 419.15L88.81 419.5L88.73 419.85L88.66 420.2L88.59 420.55L88.51 420.9L88.44 421.25L88.35 421.61L88.26 421.96L88.18 422.31L88.1 422.66L88.01 423.01L87.93 423.36L87.84 423.71L87.75 424.06L87.65 424.41L87.55 424.76L87.44 425.11L87.32 425.46L87.2 425.81L87.06 426.16L86.91 426.51L86.74 426.86L86.56 427.21L86.37 427.56L86.16 427.91L85.96 428.26L85.74 428.61L85.52 428.96L85.29 429.31L85.06 429.66L84.81 430.01L84.55 430.36L84.27 430.71L83.98 431.06L83.68 431.41L83.35 431.76L82.99 432.11L82.61 432.46L82.21 432.82L81.8 433.17L81.38 433.52L80.94 433.87L80.5 434.22L80.04 434.57L79.56 434.92L79.07 435.27L78.55 435.62L78.02 435.97L77.47 436.32L76.9 436.67L76.3 437.02L75.68 437.37L75.04 437.72L74.37 438.07L73.68 438.42L72.96 438.77L72.22 439.12L71.45 439.47L70.65 439.82L69.8 440.17L68.9 440.52L67.94 440.87L66.94 441.22L65.92 441.57L64.88 441.92L63.84 442.27L62.8 442.62L61.79 442.97L60.77 443.32L59.74 443.67L58.71 444.03L57.67 444.38L56.62 444.73L55.57 445.08L54.52 445.43L53.47 445.78L52.42 446.13L51.32 446.48L50.2 446.83L49.06 447.18L47.93 447.53L46.82 447.88L45.76 448.23L44.77 448.58L43.87 448.93L43.02 449.28L42.15 449.63L41.32 449.98L40.6 450.33L40.03 450.68L39.68 451.03L39.44 451.38L39.24 451.73L39.09 452.08L39.01 452.43L39.03 452.78L39.26 453.13L39.64 453.48L40.11 453.83L40.63 454.18L41.33 454.53L42.24 454.88L43.32 455.24L44.51 455.59L45.79 455.94L47.08 456.29L48.41 456.64L49.9 456.99L51.52 457.34L53.23 457.69L54.98 458.04L56.73 458.39L58.44 458.74L60.05 459.09L61.61 459.44L63.2 459.79L64.78 460.14L66.34 460.49L67.87 460.84L69.33 461.19L70.71 461.54L71.99 461.89L73.16 462.24L74.28 462.59L75.36 462.94L76.4 463.29L77.41 463.64L78.37 463.99L79.29 464.34L80.16 464.69L80.99 465.04L81.76 465.39L82.49 465.74L83.17 466.09L83.82 466.45L84.44 466.8L85.04 467.15L85.6 467.5L86.13 467.85L86.63 468.2L87.1 468.55L87.54 468.9L87.95 469.25L88.34 469.6L88.71 469.95L89.06 470.3L89.38 470.65L89.68 471L89.96 471.35L90 471.7L90 471.7Z" fill="#C58846"/>
<line x1="90" x2="50.93" y1="446.6" y2="446.6" stroke="#3a3a3a" stroke-opacity="0.55" stroke-width="0.45"/>
<line x1="90" x2="39.21" y1="451.8" y2="451.8" stroke="#3a3a3a" stroke-opacity="0.85" stroke-width="0.5" stroke-dasharray="1.55 0.6"/>
<line x1="90" x2="42" y1="454.8" y2="454.8" stroke="#3a3a3a" stroke-opacity="0.55" stroke-width="0.45"/>
<path d="M95.9 423.8L95.9 423.8L96 424.06L96.2 424.33L96.4 424.59L96.6 424.86L96.79 425.12L96.99 425.38L97.18 425.65L97.36 425.91L97.55 426.18L97.73 426.44L97.91 426.71L98.09 426.97L98.26 427.23L98.43 427.5L98.61 427.76L98.78 428.03L98.96 428.29L99.14 428.55L99.33 428.82L99.51 429.08L99.69 429.35L99.87 429.61L100.04 429.88L100.2 430.14L100.36 430.4L100.5 430.67L100.64 430.93L100.76 431.2L100.86 431.46L100.95 431.72L101.02 431.99L101.08 432.25L101.13 432.52L101.18 432.78L101.22 433.05L101.26 433.31L101.29 433.57L101.32 433.84L101.34 434.1L101.37 434.37L101.4 434.63L101.43 434.89L101.46 435.16L101.49 435.42L101.53 435.69L101.58 435.95L101.63 436.22L101.69 436.48L101.76 436.74L101.84 437.01L101.96 437.27L102.14 437.54L102.35 437.8L102.61 438.06L102.9 438.33L103.22 438.59L103.56 438.86L103.92 439.12L104.3 439.38L104.68 439.65L105.08 439.91L105.47 440.18L105.87 440.44L106.32 440.71L106.81 440.97L107.33 441.23L107.88 441.5L108.46 441.76L109.06 442.03L109.68 442.29L110.31 442.55L110.95 442.82L111.59 443.08L112.24 443.35L112.88 443.61L113.53 443.88L114.17 444.14L114.82 444.4L115.48 444.67L116.14 444.93L116.82 445.2L117.5 445.46L118.2 445.72L118.91 445.99L119.64 446.25L120.38 446.52L121.14 446.78L121.92 447.05L122.73 447.31L123.55 447.57L124.4 447.84L125.27 448.1L126.18 448.37L127.17 448.63L128.23 448.89L129.35 449.16L130.51 449.42L131.69 449.69L132.88 449.95L134.07 450.22L135.23 450.48L136.37 450.74L137.45 451.01L138.47 451.27L139.52 451.54L140.59 451.8L141.64 452.06L142.65 452.33L143.58 452.59L144.38 452.86L145.04 453.12L145.56 453.38L146.07 453.65L146.51 453.91L146.84 454.18L146.99 454.44L146.83 454.71L146.28 454.97L145.62 455.23L144.86 455.5L143.95 455.76L142.89 456.03L141.73 456.29L140.47 456.55L139.14 456.82L137.75 457.08L136.15 457.35L134.34 457.61L132.4 457.88L130.39 458.14L128.4 458.4L126.5 458.67L124.72 458.93L122.95 459.2L121.17 459.46L119.42 459.72L117.72 459.99L116.1 460.25L114.58 460.52L113.19 460.78L111.9 461.05L110.64 461.31L109.4 461.57L108.2 461.84L107.05 462.1L105.94 462.37L104.88 462.63L103.89 462.89L102.96 463.16L102.1 463.42L101.32 463.69L100.62 463.95L99.99 464.22L99.4 464.48L98.85 464.74L98.35 465.01L97.9 465.27L97.52 465.54L97.2 465.8L95.9 465.8Z" fill="#7C9FE6"/>
<line x1="95.9" x2="122.7" y1="447.3" y2="447.3" stroke="#3a3a3a" stroke-opacity="0.55" stroke-width="0.45"/>
<line x1="95.9" x2="145.39" y1="453.3" y2="453.3" stroke="#3a3a3a" stroke-opacity="0.85" stroke-width="0.5" stroke-dasharray="1.55 0.6"/>
<line x1="95.9" x2="143.41" y1="455.9" y2="455.9" stroke="#3a3a3a" stroke-opacity="0.55" stroke-width="0.45"/>
<line x1="90" x2="90" y1="273.5" y2="416.5" stroke="#000" stroke-opacity="0.09" stroke-width="1.7"/>
<line x1="90.3" x2="90.3" y1="273.5" y2="416.8" stroke="#4a4a4a" stroke-width="0.65"/>
</g>
<rect x="22.5" y="273.5" width="141.3" height="225.8" fill="none" stroke="#d5d5d5" stroke-width="0.72"/>
<g font-size="6.15" font-weight="bold" fill="#1c1c1c" stroke="#1c1c1c" stroke-width="0.22" text-anchor="end">
<text x="18.5" y="289.6">2.0</text>
<text x="18.5" y="333.4">1.5</text>
<text x="18.5" y="377.2">1.0</text>
<text x="18.5" y="420.9">0.5</text>
<text x="18.5" y="464.7">0.0</text>
</g>
<text font-size="6.45" fill="#1c1c1c" stroke="#1c1c1c" stroke-width="0.12" text-anchor="middle" transform="translate(6.4 387.25) rotate(-90)">Values</text>
<text font-size="6.4" fill="#1c1c1c" stroke="#1c1c1c" stroke-width="0.12" text-anchor="middle" x="92.95" y="509.8">Group</text>
<text font-size="7.2" fill="#1c1c1c" stroke="#1c1c1c" stroke-width="0.1" text-anchor="middle" x="92.95" y="271.75">Normalized Cycle Trips (p-value=0.2062)</text>
<rect x="120.6" y="277" width="39.8" height="31.7" rx="1.3" fill="#fff" fill-opacity="0.8" stroke="#dcdcdc" stroke-width="0.5"/>
<text font-size="6.42" font-weight="bold" fill="#1c1c1c" stroke="#1c1c1c" stroke-width="0.22" text-anchor="middle" x="140" y="284.7">CDR status</text>
<rect x="125.7" y="290.1" width="13.7" height="4.35" fill="#C58846" stroke="#464646" stroke-width="0.45"/>
<text font-size="6.62" font-weight="bold" fill="#1c1c1c" stroke="#1c1c1c" stroke-width="0.22" x="145" y="294.65">0.0</text>
<rect x="125.7" y="300" width="13.7" height="4.35" fill="#7C9FE6" stroke="#464646" stroke-width="0.45"/>
<text font-size="6.62" font-weight="bold" fill="#1c1c1c" stroke="#1c1c1c" stroke-width="0.22" x="145" y="304.55">0.5</text>
</g>
<g id="panel6">
<g stroke="#d7d7d7" stroke-width="0.62" clip-path="url(#c6)">
<line x1="193.9" x2="335.8" y1="286.4" y2="286.4"/>
<line x1="193.9" x2="335.8" y1="330.4" y2="330.4"/>
<line x1="193.9" x2="335.8" y1="374.5" y2="374.5"/>
<line x1="193.9" x2="335.8" y1="418.5" y2="418.5"/>
<line x1="193.9" x2="335.8" y1="462.5" y2="462.5"/>
</g>
<g clip-path="url(#c6)" stroke="#464646" stroke-width="0.46" stroke-linejoin="bevel">
<path d="M262 298.5L262 298.5L261.78 299.68L261.58 300.86L261.46 302.03L261.38 303.21L261.31 304.39L261.23 305.57L261.14 306.75L261.04 307.92L260.93 309.1L260.84 310.28L260.74 311.46L260.65 312.64L260.55 313.81L260.45 314.99L260.36 316.17L260.31 317.35L260.3 318.53L260.31 319.7L260.32 320.88L260.33 322.06L260.35 323.24L260.37 324.42L260.39 325.59L260.41 326.77L260.44 327.95L260.47 329.13L260.51 330.31L260.55 331.48L260.59 332.66L260.63 333.84L260.7 335.02L260.75 336.2L260.79 337.37L260.8 338.55L260.8 339.73L260.8 340.91L260.8 342.09L260.8 343.26L260.8 344.44L260.79 345.62L260.75 346.8L260.67 347.98L260.57 349.15L260.46 350.33L260.35 351.51L260.23 352.69L260.07 353.87L259.89 355.04L259.73 356.22L259.61 357.4L259.52 358.58L259.45 359.76L259.38 360.93L259.32 362.11L259.27 363.29L259.22 364.47L259.17 365.65L259.13 366.82L259.08 368L259.03 369.18L258.99 370.36L258.94 371.54L258.89 372.71L258.85 373.89L258.81 375.07L258.77 376.25L258.73 377.43L258.69 378.6L258.65 379.78L258.61 380.96L258.57 382.14L258.52 383.32L258.47 384.49L258.42 385.67L258.37 386.85L258.32 388.03L258.26 389.21L258.2 390.38L258.14 391.56L258.07 392.74L257.99 393.92L257.9 395.09L257.79 396.27L257.67 397.45L257.54 398.63L257.4 399.81L257.27 400.98L257.14 402.16L257.01 403.34L256.9 404.52L256.78 405.7L256.66 406.87L256.52 408.05L256.36 409.23L256.15 410.41L255.86 411.59L255.53 412.76L255.19 413.94L254.87 415.12L254.57 416.3L254.27 417.48L253.95 418.65L253.59 419.83L253.14 421.01L252.6 422.19L252.01 423.37L251.44 424.54L250.86 425.72L250.25 426.9L249.54 428.08L248.74 429.26L247.85 430.43L246.89 431.61L245.82 432.79L244.66 433.97L243.39 435.15L242 436.32L240.46 437.5L238.76 438.68L236.82 439.86L234.48 441.04L232.07 442.21L229.69 443.39L227.41 444.57L225.24 445.75L223.15 446.93L221.13 448.1L219.21 449.28L217.36 450.46L215.68 451.64L214.16 452.82L212.89 453.99L211.87 455.17L211.28 456.35L211.32 457.53L211.8 458.71L212.52 459.88L213.56 461.06L215 462.24L216.49 463.42L218.07 464.6L219.7 465.77L221.68 466.95L224.4 468.13L227.05 469.31L229.64 470.49L232.51 471.66L235.3 472.84L237.86 474.02L240.56 475.2L243.26 476.38L245.69 477.55L247.93 478.73L250.04 479.91L251.88 481.09L253.34 482.27L254.66 483.44L255.86 484.62L257.6 485.8L262 485.8Z" fill="#C58846"/>
<line x1="262" x2="235.99" y1="440.3" y2="440.3" stroke="#3a3a3a" stroke-opacity="0.55" stroke-width="0.45"/>
<line x1="262" x2="211.24" y1="456.5" y2="456.5" stroke="#3a3a3a" stroke-opacity="0.85" stroke-width="0.5" stroke-dasharray="1.55 0.6"/>
<line x1="262" x2="213.03" y1="460.5" y2="460.5" stroke="#3a3a3a" stroke-opacity="0.55" stroke-width="0.45"/>
<path d="M267.9 398.8L268.2 398.8L268.8 399.32L269.08 399.83L269.21 400.35L269.3 400.86L269.37 401.38L269.47 401.89L269.61 402.41L269.77 402.93L269.95 403.44L270.14 403.96L270.34 404.47L270.57 404.99L270.8 405.5L271.06 406.02L271.35 406.54L271.67 407.05L272 407.57L272.36 408.08L272.73 408.6L273.11 409.11L273.5 409.63L273.92 410.15L274.36 410.66L274.83 411.18L275.31 411.69L275.79 412.21L276.26 412.72L276.71 413.24L277.17 413.76L277.64 414.27L278.1 414.79L278.55 415.3L278.98 415.82L279.38 416.33L279.75 416.85L280.13 417.37L280.49 417.88L280.83 418.4L281.15 418.91L281.43 419.43L281.68 419.94L281.89 420.46L282.1 420.98L282.3 421.49L282.49 422.01L282.65 422.52L282.77 423.04L282.86 423.55L282.91 424.07L282.95 424.59L282.98 425.1L283 425.62L283.02 426.13L283.04 426.65L283.05 427.16L283.05 427.68L283.02 428.2L282.98 428.71L282.93 429.23L282.87 429.74L282.83 430.26L282.8 430.77L282.8 431.29L282.81 431.81L282.83 432.32L282.85 432.84L282.88 433.35L282.93 433.87L283.04 434.38L283.2 434.9L283.37 435.42L283.56 435.93L283.78 436.45L284.03 436.96L284.33 437.48L284.67 437.99L285.07 438.51L285.54 439.03L286.06 439.54L286.63 440.06L287.24 440.57L287.93 441.09L288.73 441.61L289.63 442.12L290.57 442.64L291.53 443.15L292.47 443.67L293.44 444.18L294.43 444.7L295.46 445.22L296.52 445.73L297.64 446.25L298.85 446.76L300.1 447.28L301.37 447.79L302.61 448.31L303.85 448.83L305.08 449.34L306.32 449.86L307.54 450.37L308.76 450.89L310.01 451.4L311.22 451.92L312.36 452.44L313.4 452.95L314.42 453.47L315.36 453.98L316.15 454.5L316.76 455.01L317.29 455.53L317.76 456.05L318.12 456.56L318.38 457.08L318.6 457.59L318.76 458.11L318.8 458.62L318.69 459.14L318.48 459.66L318.22 460.17L317.92 460.69L317.5 461.2L316.97 461.72L316.36 462.23L315.7 462.75L314.91 463.27L313.99 463.78L312.99 464.3L311.98 464.81L310.92 465.33L309.81 465.84L308.64 466.36L307.42 466.88L306.14 467.39L304.81 467.91L303.41 468.42L301.95 468.94L300.38 469.45L298.75 469.97L297.14 470.49L295.59 471L294.05 471.52L292.55 472.03L291.12 472.55L289.76 473.06L288.43 473.58L287.12 474.1L285.8 474.61L284.47 475.13L283.15 475.64L281.88 476.16L280.66 476.67L279.45 477.19L278.3 477.71L277.24 478.22L276.33 478.74L275.56 479.25L274.74 479.77L273.64 480.28L272.2 480.8L267.9 480.8Z" fill="#7C9FE6"/>
<line x1="267.9" x2="297.54" y1="446.2" y2="446.2" stroke="#3a3a3a" stroke-opacity="0.55" stroke-width="0.45"/>
<line x1="267.9" x2="317.11" y1="455.35" y2="455.35" stroke="#3a3a3a" stroke-opacity="0.85" stroke-width="0.5" stroke-dasharray="1.55 0.6"/>
<line x1="267.9" x2="316.15" y1="462.4" y2="462.4" stroke="#3a3a3a" stroke-opacity="0.55" stroke-width="0.45"/>
<line x1="261.35" x2="261.35" y1="273.5" y2="299" stroke="#000" stroke-opacity="0.09" stroke-width="1.7"/>
<line x1="261.65" x2="261.65" y1="273.5" y2="299.3" stroke="#4a4a4a" stroke-width="0.65"/>
</g>
<rect x="193.9" y="273.5" width="141.9" height="225.8" fill="none" stroke="#d5d5d5" stroke-width="0.72"/>
<g font-size="6.15" font-weight="bold" fill="#1c1c1c" stroke="#1c1c1c" stroke-width="0.22" text-anchor="end">
<text x="189.9" y="288.6">0.8</text>
<text x="189.9" y="332.6">0.6</text>
<text x="189.9" y="376.7">0.4</text>
<text x="189.9" y="420.7">0.2</text>
<text x="189.9" y="464.7">0.0</text>
</g>
<text font-size="6.45" fill="#1c1c1c" stroke="#1c1c1c" stroke-width="0.12" text-anchor="middle" transform="translate(178.2 387.25) rotate(-90)">Values</text>
<text font-size="6.4" fill="#1c1c1c" stroke="#1c1c1c" stroke-width="0.12" text-anchor="middle" x="264.95" y="509.8">Group</text>
<text font-size="7.2" fill="#1c1c1c" stroke="#1c1c1c" stroke-width="0.1" text-anchor="middle" x="264.95" y="264.55">Portion of Trips Taken by Most Common Route</text>
<text font-size="7.2" fill="#1c1c1c" stroke="#1c1c1c" stroke-width="0.1" text-anchor="middle" x="264.95" y="272.45">Recognized as Risky Trips (p-value=0.9799)</text>
<rect x="292.6" y="277" width="39.8" height="31.7" rx="1.3" fill="#fff" fill-opacity="0.8" stroke="#dcdcdc" stroke-width="0.5"/>
<text font-size="6.42" font-weight="bold" fill="#1c1c1c" stroke="#1c1c1c" stroke-width="0.22" text-anchor="middle" x="312" y="284.7">CDR status</text>
<rect x="297.7" y="290.1" width="13.7" height="4.35" fill="#C58846" stroke="#464646" stroke-width="0.45"/>
<text font-size="6.62" font-weight="bold" fill="#1c1c1c" stroke="#1c1c1c" stroke-width="0.22" x="317" y="294.65">0.0</text>
<rect x="297.7" y="300" width="13.7" height="4.35" fill="#7C9FE6" stroke="#464646" stroke-width="0.45"/>
<text font-size="6.62" font-weight="bold" fill="#1c1c1c" stroke="#1c1c1c" stroke-width="0.22" x="317" y="304.55">0.5</text>
</g>
<g id="panel7">
<g stroke="#d7d7d7" stroke-width="0.62" clip-path="url(#c7)">
<line x1="365.8" x2="507.6" y1="277.1" y2="277.1"/>
<line x1="365.8" x2="507.6" y1="323.5" y2="323.5"/>
<line x1="365.8" x2="507.6" y1="369.8" y2="369.8"/>
<line x1="365.8" x2="507.6" y1="416.2" y2="416.2"/>
<line x1="365.8" x2="507.6" y1="462.5" y2="462.5"/>
</g>
<g clip-path="url(#c7)" stroke="#464646" stroke-width="0.46" stroke-linejoin="bevel">
<path d="M433.75 262L433.3 262L433.3 263.41L433.29 264.83L433.28 266.24L433.28 267.65L433.27 269.07L433.27 270.48L433.26 271.89L433.25 273.31L433.25 274.72L433.24 276.13L433.23 277.55L433.23 278.96L433.22 280.37L433.21 281.78L433.2 283.2L433.19 284.61L433.18 286.02L433.17 287.44L433.16 288.85L433.15 290.26L433.13 291.68L433.11 293.09L433.08 294.5L433.05 295.92L433.02 297.33L432.98 298.74L432.95 300.16L432.9 301.57L432.85 302.98L432.8 304.4L432.74 305.81L432.68 307.22L432.61 308.64L432.55 310.05L432.47 311.46L432.38 312.88L432.29 314.29L432.21 315.7L432.16 317.12L432.15 318.53L432.16 319.94L432.17 321.35L432.2 322.77L432.22 324.18L432.24 325.59L432.27 327.01L432.31 328.42L432.36 329.83L432.41 331.25L432.44 332.66L432.45 334.07L432.45 335.49L432.44 336.9L432.43 338.31L432.42 339.73L432.4 341.14L432.39 342.55L432.37 343.97L432.34 345.38L432.31 346.79L432.26 348.21L432.19 349.62L432.11 351.03L432.01 352.45L431.84 353.86L431.62 355.27L431.43 356.68L431.31 358.1L431.21 359.51L431.13 360.92L431.06 362.34L431 363.75L430.94 365.16L430.88 366.58L430.83 367.99L430.77 369.4L430.72 370.82L430.67 372.23L430.62 373.64L430.58 375.06L430.54 376.47L430.5 377.88L430.45 379.3L430.41 380.71L430.36 382.12L430.31 383.54L430.25 384.95L430.19 386.36L430.12 387.78L430.05 389.19L429.96 390.6L429.87 392.02L429.78 393.43L429.67 394.84L429.55 396.25L429.41 397.67L429.26 399.08L429.1 400.49L428.92 401.91L428.74 403.32L428.54 404.73L428.31 406.15L428.07 407.56L427.79 408.97L427.48 410.39L427.12 411.8L426.74 413.21L426.34 414.63L425.92 416.04L425.47 417.45L425.03 418.87L424.62 420.28L424.17 421.69L423.53 423.11L422.73 424.52L421.92 425.93L421.07 427.35L420.14 428.76L419.13 430.17L417.91 431.58L416.41 433L414.76 434.41L412.95 435.82L410.96 437.24L408.75 438.65L406.43 440.06L404 441.48L401.43 442.89L398.96 444.3L396.58 445.72L394.28 447.13L392.08 448.54L390.02 449.96L388.09 451.37L386.26 452.78L384.73 454.2L383.7 455.61L383.36 457.02L383.75 458.44L384.49 459.85L385.72 461.26L387.45 462.68L389.11 464.09L391.06 465.5L393.36 466.92L396.32 468.33L399.26 469.74L402.18 471.15L405.38 472.57L408.52 473.98L411.51 475.39L414.3 476.81L416.99 478.22L419.51 479.63L421.75 481.05L423.8 482.46L425.57 483.87L427.4 485.29L430 486.7L433.75 486.7Z" fill="#C58846"/>
<line x1="433.75" x2="409.15" y1="438.4" y2="438.4" stroke="#3a3a3a" stroke-opacity="0.55" stroke-width="0.45"/>
<line x1="433.75" x2="383.43" y1="456.3" y2="456.3" stroke="#3a3a3a" stroke-opacity="0.85" stroke-width="0.5" stroke-dasharray="1.55 0.6"/>
<line x1="433.75" x2="384.98" y1="460.5" y2="460.5" stroke="#3a3a3a" stroke-opacity="0.55" stroke-width="0.45"/>
<path d="M439.65 398L439.65 398L440.73 398.52L441.01 399.04L441.17 399.56L441.28 400.08L441.39 400.6L441.56 401.12L441.73 401.65L441.9 402.17L442.08 402.69L442.28 403.21L442.49 403.73L442.73 404.25L442.99 404.77L443.29 405.29L443.62 405.81L443.97 406.33L444.34 406.85L444.73 407.37L445.12 407.89L445.51 408.42L445.93 408.94L446.37 409.46L446.83 409.98L447.29 410.5L447.76 411.02L448.22 411.54L448.68 412.06L449.16 412.58L449.65 413.1L450.13 413.62L450.61 414.14L451.05 414.66L451.47 415.18L451.84 415.71L452.21 416.23L452.57 416.75L452.9 417.27L453.21 417.79L453.48 418.31L453.71 418.83L453.92 419.35L454.12 419.87L454.31 420.39L454.48 420.91L454.62 421.43L454.74 421.95L454.83 422.48L454.88 423L454.92 423.52L454.96 424.04L455 424.56L455.02 425.08L455.04 425.6L455.05 426.12L455.04 426.64L455.01 427.16L454.96 427.68L454.91 428.2L454.87 428.72L454.85 429.25L454.85 429.77L454.86 430.29L454.88 430.81L454.9 431.33L454.93 431.85L454.97 432.37L455.01 432.89L455.06 433.41L455.19 433.93L455.41 434.45L455.7 434.97L456.02 435.49L456.36 436.02L456.75 436.54L457.23 437.06L457.78 437.58L458.37 438.1L458.99 438.62L459.62 439.14L460.28 439.66L460.98 440.18L461.72 440.7L462.49 441.22L463.29 441.74L464.11 442.26L464.98 442.78L465.89 443.31L466.84 443.83L467.81 444.35L468.8 444.87L469.81 445.39L470.86 445.91L471.94 446.43L473.03 446.95L474.09 447.47L475.13 447.99L476.15 448.51L477.17 449.03L478.19 449.55L479.21 450.08L480.25 450.6L481.33 451.12L482.43 451.64L483.48 452.16L484.47 452.68L485.35 453.2L486.18 453.72L486.96 454.24L487.68 454.76L488.33 455.28L488.95 455.8L489.53 456.32L490.03 456.85L490.39 457.37L490.68 457.89L490.85 458.41L490.8 458.93L490.65 459.45L490.42 459.97L490.15 460.49L489.81 461.01L489.33 461.53L488.75 462.05L488.11 462.57L487.39 463.09L486.53 463.62L485.55 464.14L484.5 464.66L483.4 465.18L482.19 465.7L480.89 466.22L479.55 466.74L478.15 467.26L476.69 467.78L475.21 468.3L473.71 468.82L472.18 469.34L470.64 469.86L469.09 470.38L467.54 470.91L465.98 471.43L464.46 471.95L463.02 472.47L461.65 472.99L460.32 473.51L458.99 474.03L457.63 474.55L456.26 475.07L454.9 475.59L453.6 476.11L452.36 476.63L451.15 477.15L450 477.68L448.95 478.2L448.05 478.72L447.27 479.24L446.42 479.76L445.31 480.28L443.95 480.8L439.65 480.8Z" fill="#7C9FE6"/>
<line x1="439.65" x2="469.73" y1="445.35" y2="445.35" stroke="#3a3a3a" stroke-opacity="0.55" stroke-width="0.45"/>
<line x1="439.65" x2="488.35" y1="455.3" y2="455.3" stroke="#3a3a3a" stroke-opacity="0.85" stroke-width="0.5" stroke-dasharray="1.55 0.6"/>
<line x1="439.65" x2="489.16" y1="461.7" y2="461.7" stroke="#3a3a3a" stroke-opacity="0.55" stroke-width="0.45"/>
</g>
<rect x="365.8" y="273.5" width="141.8" height="225.8" fill="none" stroke="#d5d5d5" stroke-width="0.72"/>
<g font-size="6.15" font-weight="bold" fill="#1c1c1c" stroke="#1c1c1c" stroke-width="0.22" text-anchor="end">
<text x="361.8" y="279.3">0.8</text>
<text x="361.8" y="325.7">0.6</text>
<text x="361.8" y="372">0.4</text>
<text x="361.8" y="418.4">0.2</text>
<text x="361.8" y="464.7">0.0</text>
</g>
<text font-size="6.45" fill="#1c1c1c" stroke="#1c1c1c" stroke-width="0.12" text-anchor="middle" transform="translate(350 387.25) rotate(-90)">Values</text>
<text font-size="6.4" fill="#1c1c1c" stroke="#1c1c1c" stroke-width="0.12" text-anchor="middle" x="436.7" y="509.8">Group</text>
<text font-size="7.2" fill="#1c1c1c" stroke="#1c1c1c" stroke-width="0.1" text-anchor="middle" x="436.7" y="264.55">Portion of Trips to Most Common Destination</text>
<text font-size="7.2" fill="#1c1c1c" stroke="#1c1c1c" stroke-width="0.1" text-anchor="middle" x="436.7" y="272.45">Recognized as Risky Trips (p-value=0.9706)</text>
<rect x="464.4" y="277" width="39.8" height="31.7" rx="1.3" fill="#fff" fill-opacity="0.8" stroke="#dcdcdc" stroke-width="0.5"/>
<text font-size="6.42" font-weight="bold" fill="#1c1c1c" stroke="#1c1c1c" stroke-width="0.22" text-anchor="middle" x="483.8" y="284.7">CDR status</text>
<rect x="469.5" y="290.1" width="13.7" height="4.35" fill="#C58846" stroke="#464646" stroke-width="0.45"/>
<text font-size="6.62" font-weight="bold" fill="#1c1c1c" stroke="#1c1c1c" stroke-width="0.22" x="488.8" y="294.65">0.0</text>
<rect x="469.5" y="300" width="13.7" height="4.35" fill="#7C9FE6" stroke="#464646" stroke-width="0.45"/>
<text font-size="6.62" font-weight="bold" fill="#1c1c1c" stroke="#1c1c1c" stroke-width="0.22" x="488.8" y="304.55">0.5</text>
</g>
<g id="panel8">
<g stroke="#d7d7d7" stroke-width="0.62" clip-path="url(#c8)">
<line x1="541.4" x2="679.6" y1="281.3" y2="281.3"/>
<line x1="541.4" x2="679.6" y1="317.5" y2="317.5"/>
<line x1="541.4" x2="679.6" y1="353.7" y2="353.7"/>
<line x1="541.4" x2="679.6" y1="389.8" y2="389.8"/>
<line x1="541.4" x2="679.6" y1="426" y2="426"/>
<line x1="541.4" x2="679.6" y1="462.3" y2="462.3"/>
<line x1="541.4" x2="679.6" y1="498.5" y2="498.5"/>
</g>
<g clip-path="url(#c8)" stroke="#464646" stroke-width="0.46" stroke-linejoin="bevel">
<path d="M607.55 262L607.45 262L607.44 263.41L607.43 264.83L607.41 266.24L607.39 267.66L607.36 269.07L607.34 270.48L607.31 271.9L607.28 273.31L607.25 274.72L607.21 276.14L607.17 277.55L607.12 278.97L607.07 280.38L607.02 281.79L606.96 283.21L606.9 284.62L606.83 286.04L606.77 287.45L606.7 288.86L606.64 290.28L606.57 291.69L606.5 293.1L606.43 294.52L606.36 295.93L606.28 297.35L606.21 298.76L606.13 300.17L606.04 301.59L605.96 303L605.87 304.42L605.77 305.83L605.67 307.24L605.57 308.66L605.46 310.07L605.34 311.48L605.2 312.9L605.04 314.31L604.89 315.73L604.73 317.14L604.58 318.55L604.44 319.97L604.31 321.38L604.18 322.79L604.04 324.21L603.89 325.62L603.73 327.04L603.55 328.45L603.35 329.86L603.12 331.28L602.87 332.69L602.57 334.11L602.2 335.52L601.78 336.93L601.34 338.35L600.83 339.76L600.27 341.17L599.69 342.59L599.05 344L598.4 345.42L597.78 346.83L597.16 348.24L596.74 349.66L596.45 351.07L596.21 352.49L596.01 353.9L595.81 355.31L595.64 356.73L595.49 358.14L595.32 359.55L595.14 360.97L594.94 362.38L594.72 363.8L594.48 365.21L594.22 366.62L593.94 368.04L593.64 369.45L593.3 370.87L592.94 372.28L592.54 373.69L592.1 375.11L591.62 376.52L591.09 377.93L590.5 379.35L589.83 380.76L589.07 382.18L588.23 383.59L587.3 385L586.24 386.42L584.97 387.83L583.58 389.25L582.17 390.66L580.8 392.07L579.39 393.49L577.95 394.9L576.54 396.31L575.19 397.73L573.96 399.14L572.81 400.56L571.7 401.97L570.63 403.38L569.6 404.8L568.62 406.21L567.67 407.63L566.76 409.04L565.88 410.45L565.02 411.87L564.2 413.28L563.42 414.69L562.69 416.11L562.03 417.52L561.41 418.94L560.79 420.35L560.21 421.76L559.68 423.18L559.22 424.59L558.85 426.01L558.57 427.42L558.31 428.83L558.07 430.25L557.88 431.66L557.77 433.07L557.76 434.49L557.96 435.9L558.33 437.32L558.83 438.73L559.39 440.14L560.09 441.56L561.09 442.97L562.32 444.38L563.69 445.8L565.14 447.21L566.64 448.63L568.32 450.04L570.17 451.45L572.15 452.87L574.2 454.28L576.29 455.7L578.55 457.11L580.97 458.52L583.44 459.94L585.87 461.35L588.14 462.76L590.28 464.18L592.37 465.59L594.36 467.01L596.21 468.42L597.89 469.83L599.51 471.25L601.03 472.66L602.36 474.08L603.44 475.49L604.32 476.9L605.1 478.32L605.76 479.73L606.28 481.14L606.68 482.56L607.02 483.97L607.29 485.39L607.45 486.8L607.55 486.8Z" fill="#C58846"/>
<line x1="607.55" x2="573.83" y1="399.3" y2="399.3" stroke="#3a3a3a" stroke-opacity="0.55" stroke-width="0.45"/>
<line x1="607.55" x2="560.24" y1="421.7" y2="421.7" stroke="#3a3a3a" stroke-opacity="0.85" stroke-width="0.5" stroke-dasharray="1.55 0.6"/>
<line x1="607.55" x2="558.93" y1="439" y2="439" stroke="#3a3a3a" stroke-opacity="0.55" stroke-width="0.45"/>
<path d="M613.45 255L614.15 255L614.35 256.62L614.55 258.23L614.76 259.85L614.97 261.47L615.19 263.08L615.41 264.7L615.63 266.31L615.83 267.93L616.04 269.55L616.24 271.16L616.46 272.78L616.7 274.4L616.97 276.01L617.27 277.63L617.63 279.25L618.08 280.86L618.6 282.48L619.17 284.09L619.78 285.71L620.43 287.33L621.09 288.94L621.74 290.56L622.38 292.18L623.02 293.79L623.69 295.41L624.38 297.03L625.08 298.64L625.79 300.26L626.51 301.87L627.22 303.49L627.92 305.11L628.62 306.72L629.32 308.34L630.03 309.96L630.75 311.57L631.46 313.19L632.17 314.81L632.85 316.42L633.51 318.04L634.14 319.65L634.75 321.27L635.34 322.89L635.93 324.5L636.49 326.12L637.03 327.74L637.54 329.35L638.02 330.97L638.45 332.58L638.87 334.2L639.28 335.82L639.68 337.43L640.06 339.05L640.42 340.67L640.74 342.28L641.02 343.9L641.25 345.52L641.44 347.13L641.6 348.75L641.74 350.36L641.87 351.98L641.98 353.6L642.09 355.21L642.19 356.83L642.31 358.45L642.42 360.06L642.55 361.68L642.66 363.3L642.78 364.91L642.89 366.53L643.01 368.14L643.14 369.76L643.28 371.38L643.45 372.99L643.65 374.61L643.88 376.23L644.15 377.84L644.44 379.46L644.75 381.08L645.07 382.69L645.41 384.31L645.74 385.92L646.1 387.54L646.48 389.16L646.89 390.77L647.33 392.39L647.81 394.01L648.36 395.62L648.98 397.24L649.65 398.86L650.35 400.47L651.07 402.09L651.81 403.7L652.62 405.32L653.47 406.94L654.32 408.55L655.13 410.17L655.86 411.79L656.56 413.4L657.22 415.02L657.86 416.64L658.47 418.25L659.07 419.87L659.65 421.48L660.23 423.1L660.79 424.72L661.3 426.33L661.74 427.95L662.13 429.57L662.45 431.18L662.62 432.8L662.72 434.42L662.74 436.03L662.61 437.65L662.41 439.26L662.09 440.88L661.65 442.5L661.12 444.11L660.47 445.73L659.73 447.35L658.88 448.96L657.9 450.58L656.81 452.19L655.56 453.81L654.17 455.43L652.81 457.04L651.59 458.66L650.44 460.28L649.23 461.89L647.91 463.51L646.5 465.13L645.06 466.74L643.64 468.36L642.26 469.97L640.88 471.59L639.47 473.21L637.98 474.82L636.43 476.44L634.84 478.06L633.26 479.67L631.72 481.29L630.17 482.91L628.66 484.52L627.23 486.14L625.87 487.75L624.56 489.37L623.34 490.99L622.26 492.6L621.25 494.22L620.35 495.84L619.62 497.45L619.05 499.07L618.35 500.69L617.5 502.3L616.65 503.92L615.93 505.53L615.28 507.15L614.68 508.77L614.13 510.38L613.65 512L613.45 512Z" fill="#7C9FE6"/>
<line x1="613.45" x2="642.52" y1="361.3" y2="361.3" stroke="#3a3a3a" stroke-opacity="0.55" stroke-width="0.45"/>
<line x1="613.45" x2="657.49" y1="415.7" y2="415.7" stroke="#3a3a3a" stroke-opacity="0.85" stroke-width="0.5" stroke-dasharray="1.55 0.6"/>
<line x1="613.45" x2="662.22" y1="440.3" y2="440.3" stroke="#3a3a3a" stroke-opacity="0.55" stroke-width="0.45"/>
</g>
<rect x="541.4" y="273.5" width="138.2" height="225.8" fill="none" stroke="#d5d5d5" stroke-width="0.72"/>
<g font-size="6.15" font-weight="bold" fill="#1c1c1c" stroke="#1c1c1c" stroke-width="0.22" text-anchor="end">
<text x="537.4" y="283.5">0.5</text>
<text x="537.4" y="319.7">0.4</text>
<text x="537.4" y="355.9">0.3</text>
<text x="537.4" y="392">0.2</text>
<text x="537.4" y="428.2">0.1</text>
<text x="537.4" y="464.5">0.0</text>
<text x="537.4" y="500.7">−0.1</text>
</g>
<text font-size="6.45" fill="#1c1c1c" stroke="#1c1c1c" stroke-width="0.12" text-anchor="middle" transform="translate(521.8 387.25) rotate(-90)">Values</text>
<text font-size="6.4" fill="#1c1c1c" stroke="#1c1c1c" stroke-width="0.12" text-anchor="middle" x="610.5" y="509.8">Group</text>
<text font-size="7.2" fill="#1c1c1c" stroke="#1c1c1c" stroke-width="0.1" text-anchor="middle" x="610.5" y="264.55">Portion of Trips to New Destinations</text>
<text font-size="7.2" fill="#1c1c1c" stroke="#1c1c1c" stroke-width="0.1" text-anchor="middle" x="610.5" y="272.45">Recognized as Risky Trips (p-value=0.5450)</text>
<rect x="636.4" y="277" width="39.8" height="31.7" rx="1.3" fill="#fff" fill-opacity="0.8" stroke="#dcdcdc" stroke-width="0.5"/>
<text font-size="6.42" font-weight="bold" fill="#1c1c1c" stroke="#1c1c1c" stroke-width="0.22" text-anchor="middle" x="655.8" y="284.7">CDR status</text>
<rect x="641.5" y="290.1" width="13.7" height="4.35" fill="#C58846" stroke="#464646" stroke-width="0.45"/>
<text font-size="6.62" font-weight="bold" fill="#1c1c1c" stroke="#1c1c1c" stroke-width="0.22" x="660.8" y="294.65">0.0</text>
<rect x="641.5" y="300" width="13.7" height="4.35" fill="#7C9FE6" stroke="#464646" stroke-width="0.45"/>
<text font-size="6.62" font-weight="bold" fill="#1c1c1c" stroke="#1c1c1c" stroke-width="0.22" x="660.8" y="304.55">0.5</text>
</g>
</svg>
</body>
</html>
